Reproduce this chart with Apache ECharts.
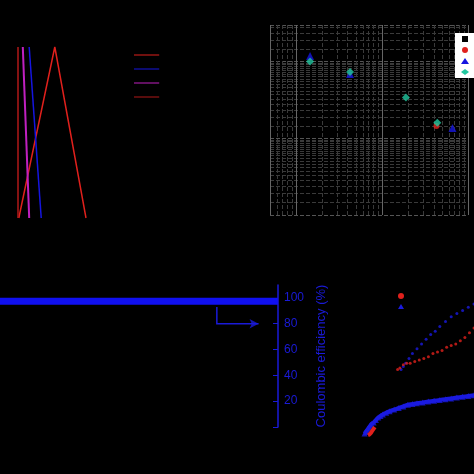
<!DOCTYPE html>
<html><head><meta charset="utf-8">
<script src="https://cdn.jsdelivr.net/npm/echarts@6/dist/echarts.min.js"></script>
<style>html,body{margin:0;background:#000}#c{width:474px;height:474px}</style>
</head><body><div id="c"></div>
<script>
// panel a: profiles
var profRed = [[1.1, 0], [5.6, 1], [9.5, 0]];
var profBlue = [[2.4, 1], [3.9, 0]];
var profMagenta = [[1.6, 1], [2.4, 0]];
var profDark = [[1.0, 1], [1.0, 0]];
var profLegend = ['#e0201c', '#1515e0', '#c020c0', '#b01818'];

// panel b: log-log scatter
var teal = [[1.46, 100], [4.26, 73], [19, 34], [44, 16]];
var blueTri = [[1.46, 118], [4.26, 69], [66, 13.6]];
var redCirc = [[43, 14.5]];

// panel c: coulombic efficiency
var cycles = [];
var ce = [];
for (var i = 0; i <= 100; i += 2) { cycles.push(i); ce.push(97.5); }
var arrow = [[78, 93], [78, 80], [93, 80]];

// panel d
var blueUp = [[36,44],[38,46],[40,48],[43,51],[46,54],[50,57],[54,60],[58,63],[62,66],[66,68],[70,71],[75,74],[80,77],[85,79],[90,81],[95,83],[100,85]];
var redUp = [[33,44],[35,45],[38,47],[41,48],[44,48],[48,49],[52,50],[56,51],[60,52],[64,54],[68,55],[72,56],[76,58],[80,59],[84,60],[88,62],[92,64],[96,67],[100,70]];
var blueLow = [[4,4],[5,5],[6,6],[7,7],[8,8],[9,9],[10,10],[12,11],[14,12.5],[16,14],[18,15],[20,16],[23,17],[26,18],[30,19],[34,20],[38,21],[42,22],[46,22.5],[50,23],[55,23.5],[60,24],[65,24.5],[70,25],[75,25.5],[80,26],[85,26.5],[90,27],[95,27.5],[100,28]];
var redLow = [[7,3],[9,4],[11,6],[13,8]];

var hidden = {show: false};
function valAxis(idx, min, max) {
  return {type: 'value', gridIndex: idx, min: min, max: max, show: false};
}
var gridLine = {show: true, lineStyle: {color: '#3a3a3a', type: 'dashed', width: 1}};
var chart = echarts.init(document.getElementById('c'));
chart.setOption({
  backgroundColor: '#000',
  animation: false,
  grid: [
    {left: 10, width: 80, top: 47, height: 171},
    {left: 270, width: 198, top: 25, height: 190},
    {left: 0, right: 196, top: 285, bottom: 47},
    {left: 360, right: 0, top: 280, bottom: 34},
    {left: 130, width: 40, top: 50, height: 50}
  ],
  xAxis: [
    valAxis(0, 0, 10),
    {type: 'log', gridIndex: 1, min: 0.5, max: 100, axisLabel: hidden, axisLine: hidden, axisTick: hidden,
      splitLine: {show: true, lineStyle: {color: '#666'}},
      minorSplitLine: gridLine, minorTick: {splitNumber: 9}},
    valAxis(2, 0, 100),
    valAxis(3, 0, 100),
    valAxis(4, 0, 10)
  ],
  yAxis: [
    valAxis(0, 0, 1),
    {type: 'log', gridIndex: 1, min: 1, max: 300, axisLabel: hidden, axisLine: hidden, axisTick: hidden,
      splitLine: {show: true, lineStyle: {color: '#555', type: 'dashed'}},
      minorSplitLine: gridLine, minorTick: {splitNumber: 20}},
    {type: 'value', gridIndex: 2, position: 'right', min: 0, max: 110, interval: 20,
      name: 'Coulombic efficiency (%)', nameLocation: 'middle', nameGap: 28, nameRotate: 90,
      nameTextStyle: {color: '#1a1ad8', fontSize: 13, fontFamily: 'Liberation Sans'},
      axisLine: {show: true, onZero: false, lineStyle: {color: '#1a1ad8', width: 1.5}},
      axisTick: {show: true, inside: true, lineStyle: {color: '#1a1ad8'}},
      axisLabel: {color: '#1a1ad8', fontSize: 12, margin: 6, showMaxLabel: false,
        formatter: function (v) { return v === 0 ? '' : v; }},
      splitLine: hidden},
    valAxis(3, 0, 100),
    valAxis(4, 0, 4)
  ],
  series: [
    {type: 'line', xAxisIndex: 0, yAxisIndex: 0, data: profRed, symbol: 'none', lineStyle: {color: '#e0201c', width: 1.5}},
    {type: 'line', xAxisIndex: 0, yAxisIndex: 0, data: profBlue, symbol: 'none', lineStyle: {color: '#1515e0', width: 1.5}},
    {type: 'line', xAxisIndex: 0, yAxisIndex: 0, data: profMagenta, symbol: 'none', lineStyle: {color: '#c020c0', width: 2}},
    {type: 'line', xAxisIndex: 0, yAxisIndex: 0, data: profDark, symbol: 'none', lineStyle: {color: '#b01818', width: 1.5}},
    {type: 'lines', coordinateSystem: 'cartesian2d', xAxisIndex: 4, yAxisIndex: 4,
      data: profLegend.map(function (c, k) { return {coords: [[1, 3.6 - k * 1.1], [7.3, 3.6 - k * 1.1]], lineStyle: {color: c, width: 2}}; })},
    {type: 'scatter', xAxisIndex: 1, yAxisIndex: 1, data: blueTri, symbol: 'triangle', symbolSize: 8, itemStyle: {color: '#1515e0'}},
    {type: 'scatter', xAxisIndex: 1, yAxisIndex: 1, data: redCirc, symbol: 'circle', symbolSize: 6, itemStyle: {color: '#e0201c'}},
    {type: 'scatter', xAxisIndex: 1, yAxisIndex: 1, data: teal, symbol: 'diamond', symbolSize: 8, itemStyle: {color: '#22c7a0'}},
    {type: 'line', xAxisIndex: 2, yAxisIndex: 2, data: cycles.map(function (c, k) { return [c, ce[k]]; }),
      symbol: 'none', lineStyle: {color: '#1010f0', width: 7}},
    {type: 'lines', coordinateSystem: 'cartesian2d', xAxisIndex: 2, yAxisIndex: 2, polyline: true,
      data: [{coords: arrow}], lineStyle: {color: '#1a1ad8', width: 1.5, opacity: 1}},
    {type: 'scatter', xAxisIndex: 2, yAxisIndex: 2, data: [arrow[2]], symbol: 'arrow', symbolRotate: -90,
      symbolSize: [7, 9], itemStyle: {color: '#1a1ad8'}},
    {type: 'scatter', xAxisIndex: 3, yAxisIndex: 3, data: blueUp, symbolSize: 3, itemStyle: {color: '#1a1ae0'}},
    {type: 'scatter', xAxisIndex: 3, yAxisIndex: 3, data: redUp, symbolSize: 3, itemStyle: {color: '#e0201c'}},
    {type: 'line', xAxisIndex: 3, yAxisIndex: 3, data: blueLow, symbol: 'none', smooth: true, lineStyle: {color: '#1a1ae0', width: 4}},
    {type: 'scatter', xAxisIndex: 3, yAxisIndex: 3, data: blueLow, symbol: 'triangle', symbolSize: 6, itemStyle: {color: '#1a1ae0'}},
    {type: 'line', xAxisIndex: 3, yAxisIndex: 3, data: redLow, symbol: 'none', smooth: true, lineStyle: {color: '#e0201c', width: 4}}
  ],
  graphic: [
    {type: 'group', z: 100, children: [
      {type: 'rect', left: 455, top: 33, shape: {width: 19, height: 45}, style: {fill: '#fff'}, z: 100},
      {type: 'rect', left: 462, top: 36, shape: {width: 6, height: 6}, style: {fill: '#000'}, z: 101},
      {type: 'circle', left: 462, top: 47, shape: {r: 3}, style: {fill: '#e0201c'}, z: 101},
      {type: 'polygon', shape: {points: [[465, 58], [461, 64], [469, 64]]}, style: {fill: '#1515e0'}, z: 101},
      {type: 'polygon', shape: {points: [[465, 69], [469, 72], [465, 75], [461, 72]]}, style: {fill: '#22c7a0'}, z: 101}
    ]},
    {type: 'circle', left: 398, top: 293, shape: {r: 3}, style: {fill: '#e0201c'}},
    {type: 'polygon', shape: {points: [[401, 304], [398, 309], [404, 309]]}, style: {fill: '#1a1ae0'}}
  ]
});
</script></body></html>
